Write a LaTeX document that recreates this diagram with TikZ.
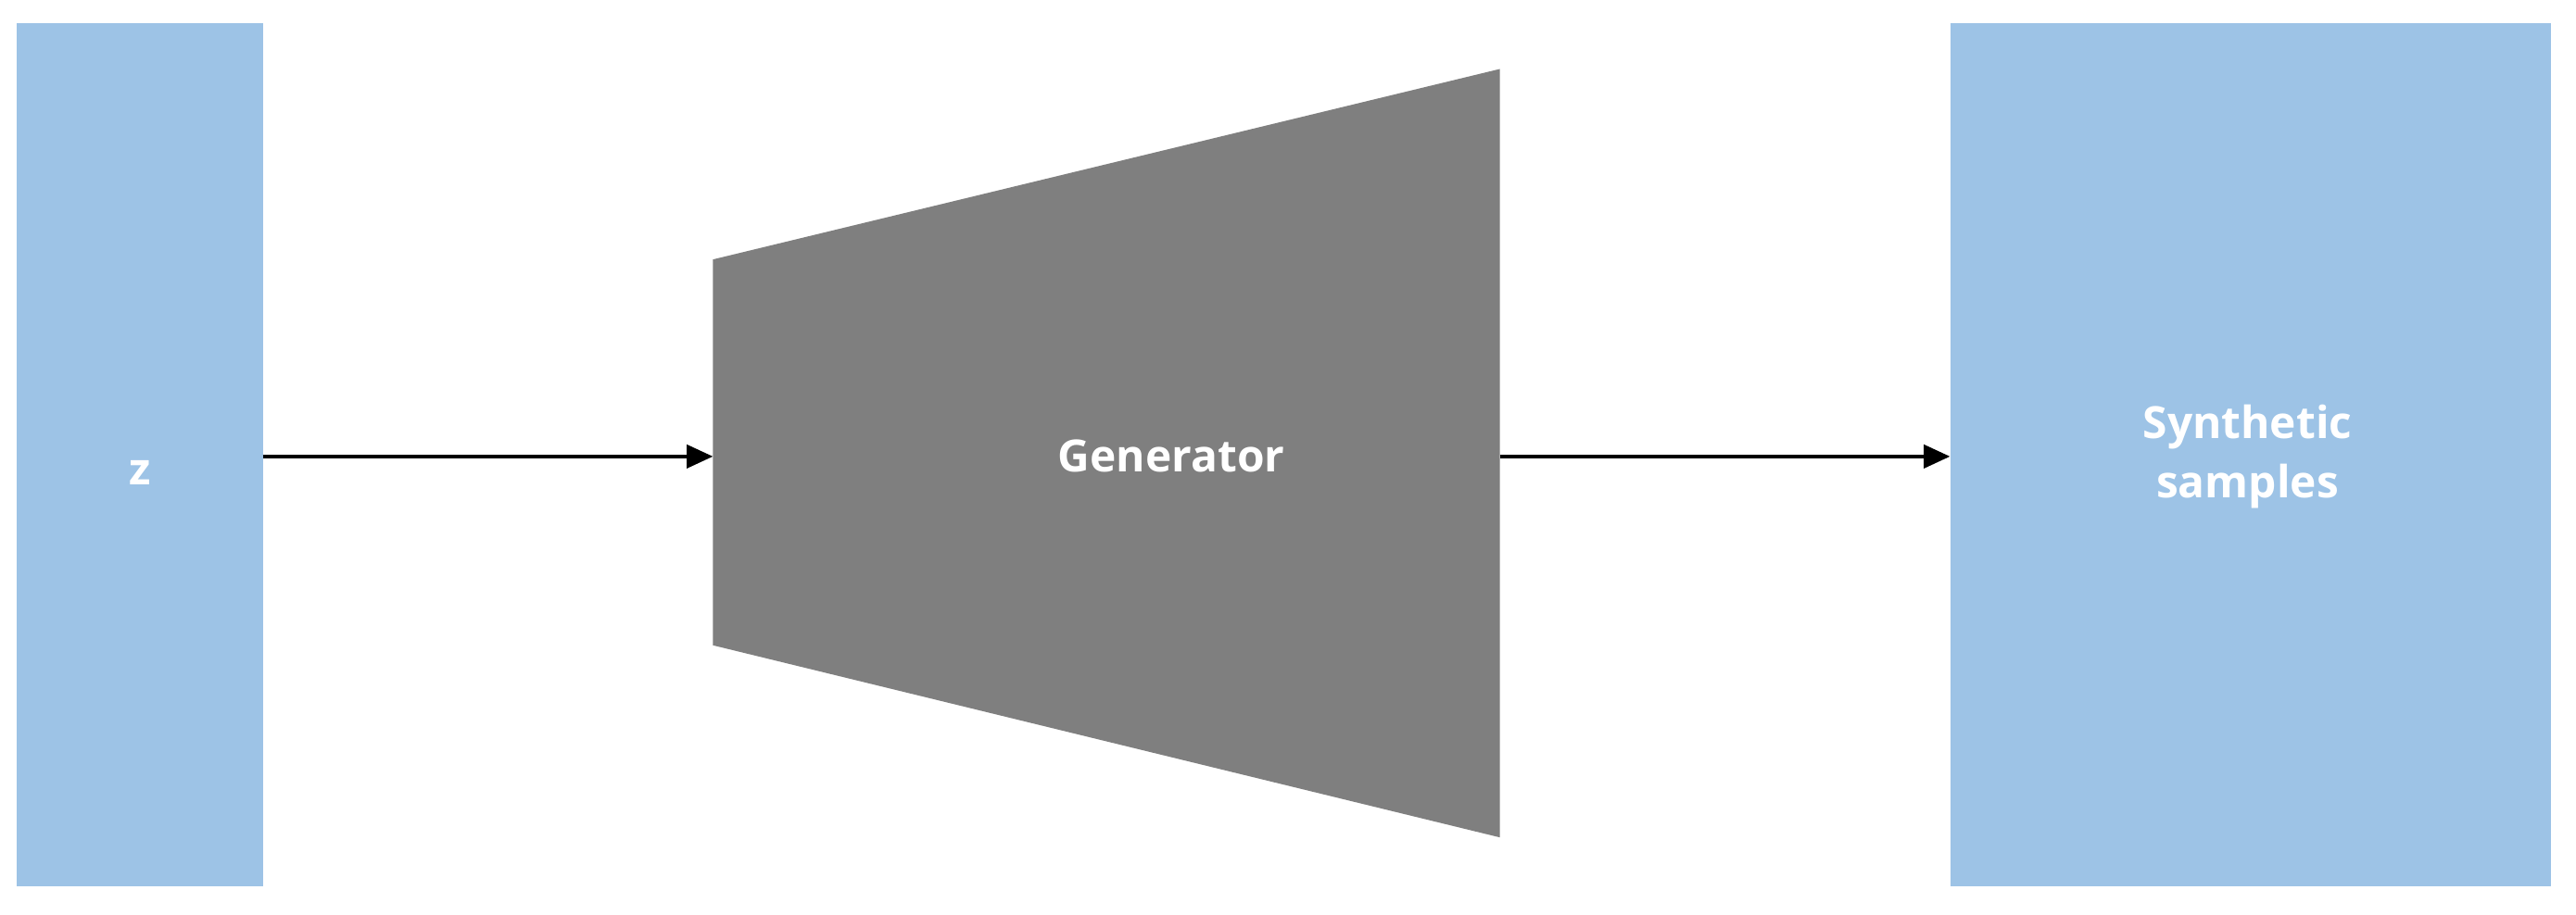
\documentclass[tikz,border=0pt]{standalone}
\usepackage{fontspec}
\setmainfont{Open Sans}
\usetikzlibrary{arrows.meta}
\definecolor{bluebox}{HTML}{9DC3E6}
\definecolor{gengray}{HTML}{7F7F7F}
\begin{document}
\begin{tikzpicture}[x=1pt,y=-1pt,
  lbl/.style={text=white,font=\fontsize{27}{36}\selectfont\bfseries,align=center},
  arr/.style={draw=black,line width=2.5pt,-{Triangle[length=16pt,width=14pt]}}]
\useasboundingbox (0,0) rectangle (1568,557);
\fill[white] (0,0) rectangle (1568,557);
\fill[bluebox] (10,14) rectangle (160,540);
\coordinate (zr) at (160,278);
\node[lbl] (z) at (85,288) {z};
\fill[gengray] (434,158) -- (913,42) -- (913,510) -- (434,393) -- cycle;
\coordinate (gl) at (434,278);
\coordinate (gr) at (913,278);
\node[lbl] (gen) at (713,278) {Generator};
\fill[bluebox] (1187,14) rectangle (1553,540);
\coordinate (sl) at (1187,278);
\node[lbl] (syn) at (1368,278) {Synthetic\\samples};
\draw[arr] (zr) -- (gl);
\draw[arr] (gr) -- (sl);
\end{tikzpicture}
\end{document}
